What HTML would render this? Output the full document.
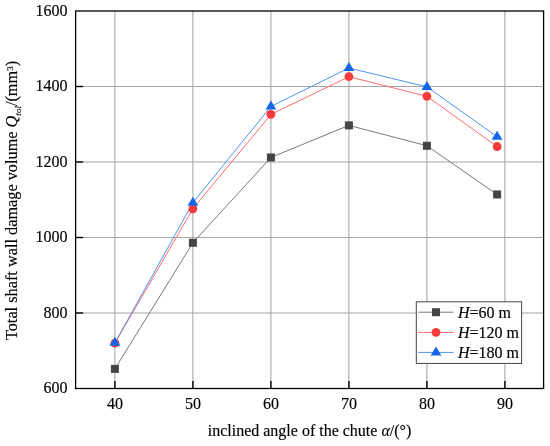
<!DOCTYPE html>
<html><head><meta charset="utf-8"><title>chart</title>
<style>
html,body{margin:0;padding:0;background:#fff;}
body{width:550px;height:446px;overflow:hidden;}
svg{display:block;}
.g{stroke:#a6a6a6;stroke-width:1.05;}
.t{stroke:#000;stroke-width:1.4;}
.fr{fill:none;stroke:#000;stroke-width:1.3;}
.tx{font-family:'Liberation Serif', 'Times New Roman', serif;font-size:16px;fill:#000;stroke:#000;stroke-width:0.15px;}
</style></head>
<body>
<svg width="550" height="446" viewBox="0 0 550 446">
<line x1="114.90" y1="11.00" x2="114.90" y2="388.50" class="g"/>
<line x1="192.90" y1="11.00" x2="192.90" y2="388.50" class="g"/>
<line x1="270.90" y1="11.00" x2="270.90" y2="388.50" class="g"/>
<line x1="348.90" y1="11.00" x2="348.90" y2="388.50" class="g"/>
<line x1="426.90" y1="11.00" x2="426.90" y2="388.50" class="g"/>
<line x1="504.90" y1="11.00" x2="504.90" y2="388.50" class="g"/>
<line x1="75.60" y1="313.00" x2="543.60" y2="313.00" class="g"/>
<line x1="75.60" y1="237.50" x2="543.60" y2="237.50" class="g"/>
<line x1="75.60" y1="162.00" x2="543.60" y2="162.00" class="g"/>
<line x1="75.60" y1="86.50" x2="543.60" y2="86.50" class="g"/>
<line x1="114.90" y1="388.50" x2="114.90" y2="381.00" class="t"/>
<line x1="192.90" y1="388.50" x2="192.90" y2="381.00" class="t"/>
<line x1="270.90" y1="388.50" x2="270.90" y2="381.00" class="t"/>
<line x1="348.90" y1="388.50" x2="348.90" y2="381.00" class="t"/>
<line x1="426.90" y1="388.50" x2="426.90" y2="381.00" class="t"/>
<line x1="504.90" y1="388.50" x2="504.90" y2="381.00" class="t"/>
<line x1="75.60" y1="313.00" x2="83.10" y2="313.00" class="t"/>
<line x1="75.60" y1="237.50" x2="83.10" y2="237.50" class="t"/>
<line x1="75.60" y1="162.00" x2="83.10" y2="162.00" class="t"/>
<line x1="75.60" y1="86.50" x2="83.10" y2="86.50" class="t"/>
<rect x="75.60" y="11.00" width="468.00" height="377.50" class="fr"/>
<polyline points="114.90,368.87 192.90,242.78 270.90,157.47 348.90,125.38 426.90,145.77 497.10,194.47" fill="none" stroke="#7a7a7a" stroke-width="1"/>
<polyline points="114.90,343.20 192.90,208.81 270.90,114.44 348.90,76.69 426.90,96.31 497.10,146.52" fill="none" stroke="#ff6b6b" stroke-width="1"/>
<polyline points="114.90,342.82 192.90,202.77 270.90,106.51 348.90,68.00 426.90,86.88 497.10,136.71" fill="none" stroke="#4d94f0" stroke-width="1"/>
<rect x="110.90" y="364.87" width="8" height="8" fill="#454545"/>
<rect x="188.90" y="238.78" width="8" height="8" fill="#454545"/>
<rect x="266.90" y="153.47" width="8" height="8" fill="#454545"/>
<rect x="344.90" y="121.38" width="8" height="8" fill="#454545"/>
<rect x="422.90" y="141.77" width="8" height="8" fill="#454545"/>
<rect x="493.10" y="190.47" width="8" height="8" fill="#454545"/>
<circle cx="114.90" cy="343.20" r="4.4" fill="#f83a3a"/>
<circle cx="192.90" cy="208.81" r="4.4" fill="#f83a3a"/>
<circle cx="270.90" cy="114.44" r="4.4" fill="#f83a3a"/>
<circle cx="348.90" cy="76.69" r="4.4" fill="#f83a3a"/>
<circle cx="426.90" cy="96.31" r="4.4" fill="#f83a3a"/>
<circle cx="497.10" cy="146.52" r="4.4" fill="#f83a3a"/>
<polygon points="114.90,336.82 120.30,345.82 109.50,345.82" fill="#1464e6"/>
<polygon points="192.90,196.77 198.30,205.77 187.50,205.77" fill="#1464e6"/>
<polygon points="270.90,100.51 276.30,109.51 265.50,109.51" fill="#1464e6"/>
<polygon points="348.90,62.00 354.30,71.00 343.50,71.00" fill="#1464e6"/>
<polygon points="426.90,80.88 432.30,89.88 421.50,89.88" fill="#1464e6"/>
<polygon points="497.10,130.71 502.50,139.71 491.70,139.71" fill="#1464e6"/>
<rect x="416.30" y="301.80" width="105.30" height="61.60" fill="#fff" stroke="#444" stroke-width="1"/>
<line x1="418.2" y1="312.20" x2="453.6" y2="312.20" stroke="#7a7a7a" stroke-width="1"/>
<rect x="432.00" y="308.20" width="8" height="8" fill="#454545"/>
<text x="458" y="317.70" class="tx"><tspan font-style="italic">H</tspan>=60 m</text>
<line x1="418.2" y1="332.40" x2="453.6" y2="332.40" stroke="#ff6b6b" stroke-width="1"/>
<circle cx="436.00" cy="332.40" r="4.4" fill="#f83a3a"/>
<text x="458" y="337.90" class="tx"><tspan font-style="italic">H</tspan>=120 m</text>
<line x1="418.2" y1="352.40" x2="453.6" y2="352.40" stroke="#4d94f0" stroke-width="1"/>
<polygon points="436.00,346.40 441.40,355.40 430.60,355.40" fill="#1464e6"/>
<text x="458" y="357.90" class="tx"><tspan font-style="italic">H</tspan>=180 m</text>
<text x="67.5" y="393.00" class="tx" text-anchor="end">600</text>
<text x="67.5" y="317.50" class="tx" text-anchor="end">800</text>
<text x="67.5" y="242.00" class="tx" text-anchor="end">1000</text>
<text x="67.5" y="166.50" class="tx" text-anchor="end">1200</text>
<text x="67.5" y="91.00" class="tx" text-anchor="end">1400</text>
<text x="67.5" y="15.50" class="tx" text-anchor="end">1600</text>
<text x="114.90" y="409" class="tx" text-anchor="middle">40</text>
<text x="192.90" y="409" class="tx" text-anchor="middle">50</text>
<text x="270.90" y="409" class="tx" text-anchor="middle">60</text>
<text x="348.90" y="409" class="tx" text-anchor="middle">70</text>
<text x="426.90" y="409" class="tx" text-anchor="middle">80</text>
<text x="504.90" y="409" class="tx" text-anchor="middle">90</text>
<text x="309.5" y="435.6" class="tx" text-anchor="middle">inclined angle of the chute <tspan font-style="italic">α</tspan>/(°)</text>
<text transform="translate(17.1,200.5) rotate(-90)" class="tx" style="font-size:16.3px" text-anchor="middle">Total shaft wall damage volume <tspan font-style="italic">Q</tspan><tspan font-style="italic" font-size="9" dy="3.5">tol</tspan><tspan dy="-3.5">/(mm</tspan><tspan font-size="9" dy="-4.5">3</tspan><tspan dy="4.5">)</tspan></text>
</svg>
</body></html>
